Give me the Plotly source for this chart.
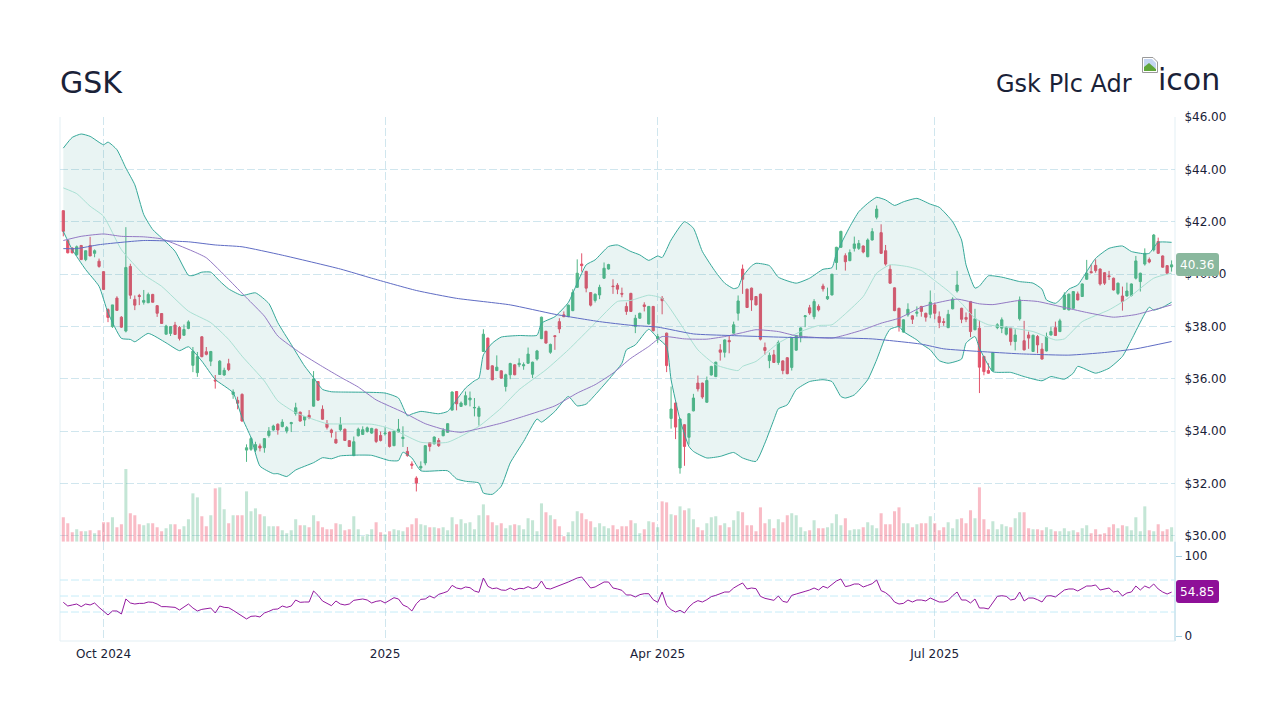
import pandas as pd
import plotly.graph_objects as go

TICKER = "GSK"
COMPANY = "Gsk Plc Adr"
HOLIDAYS = ["2024-11-28", "2024-12-25", "2025-01-01", "2025-01-09", "2025-01-20", "2025-02-17",
            "2025-04-18", "2025-05-26", "2025-06-19", "2025-07-04", "2025-09-01"]
dates = [d.strftime("%Y-%m-%d") for d in pd.bdate_range("2024-09-18", "2025-09-16") if d.strftime("%Y-%m-%d") not in HOLIDAYS]

tick_dates = ["2024-10-01", "2024-12-31", "2025-04-01", "2025-07-01"]
tick_labels = ["Oct 2024", "2025", "Apr 2025", "Jul 2025"]

opens = [42.43,41.29,41.0,40.75,41.1,40.56,41.1,40.8,40.5,40.1,38.65,38.0,39.09,38.36,37.83,40.3,39.04,39.19,38.93,38.91,
39.23,38.8,38.5,37.71,37.74,38.06,37.97,37.67,37.93,36.52,36.24,37.61,37.04,36.68,35.96,36.17,36.15,36.58,35.41,35.18,
35.41,33.28,33.31,33.28,33.44,33.37,33.84,34.05,34.27,34.18,34.01,34.29,34.68,34.73,34.43,34.61,34.96,35.9,34.84,34.3,
34.05,33.69,34.06,34.08,33.64,33.07,33.83,33.88,33.99,33.93,34.08,33.84,33.9,33.97,33.45,33.97,33.72,33.23,32.75,32.21,
32.6,32.79,33.57,33.52,33.65,33.83,33.96,34.81,35.52,34.95,35.01,35.2,34.89,34.57,37.05,37.56,36.5,36.32,36.31,35.71,
36.16,36.54,36.54,36.5,36.6,36.18,36.76,37.54,37.82,37.02,37.65,38.19,38.45,38.38,38.61,39.5,40.39,40.11,39.3,39.0,
39.21,39.85,40.2,39.55,39.58,39.27,38.77,39.27,38.0,38.32,38.83,38.1,38.77,37.53,39.08,37.75,34.49,35.08,32.6,34.25,
33.77,34.78,35.84,35.84,35.11,36.15,36.09,37.11,37.02,37.47,37.75,38.51,40.2,39.43,39.47,39.15,39.24,37.2,36.7,36.92,
36.63,36.69,36.81,36.44,37.1,37.6,38.38,38.72,38.38,38.77,39.55,39.06,39.21,40.45,41.03,40.71,40.52,40.99,40.99,41.08,
40.67,41.31,42.18,41.59,40.9,40.19,39.48,38.7,37.79,38.45,38.41,38.51,38.77,38.51,38.47,38.83,38.38,38.19,37.96,38.68,
39.36,38.7,38.35,38.96,37.88,37.94,36.86,36.32,36.31,37.96,37.94,37.71,37.94,37.43,38.3,37.46,37.68,37.05,37.62,37.14,
37.07,37.68,37.96,37.81,38.66,38.64,38.7,39.25,39.15,39.81,40.1,40.34,40.2,40.06,39.94,39.85,39.27,39.17,39.17,39.19,
39.85,39.72,40.39,40.56,40.93,41.25,40.7,40.33,40.28]
highs = [42.43,41.33,41.03,41.1,41.12,40.9,41.43,40.95,40.6,40.12,38.7,38.83,39.16,38.4,41.8,40.4,39.19,39.25,39.4,39.3,
39.25,38.82,38.52,38.07,38.0,38.18,38.02,38.08,38.24,37.22,37.03,37.63,37.22,37.07,36.15,36.72,36.43,36.77,35.6,35.32,
35.45,33.5,33.78,33.6,33.53,33.74,34.16,34.25,34.3,34.46,34.2,34.36,35.09,34.75,34.58,34.81,36.3,35.92,34.99,34.43,
34.1,33.98,34.54,34.1,33.66,33.8,34.14,34.19,34.18,34.13,34.1,33.99,34.16,33.99,34.02,34.47,34.19,33.4,32.85,32.28,
32.85,33.47,33.59,33.8,33.74,34.12,34.31,35.52,35.54,35.14,35.52,35.52,35.27,34.97,37.9,37.58,36.52,36.9,36.33,36.2,
36.62,36.56,36.79,36.63,37.2,36.66,37.11,38.38,37.84,37.35,37.67,38.32,38.58,38.84,39.43,40.57,40.8,40.13,39.32,39.26,
39.6,40.45,40.4,39.81,39.66,39.49,38.92,39.29,38.45,38.53,38.93,38.79,38.79,37.72,39.17,37.77,35.71,35.1,34.49,34.27,
34.69,35.43,36.13,35.86,36.09,36.5,36.66,37.33,37.51,37.68,38.19,39.19,40.37,39.45,39.49,39.17,39.26,37.39,37.01,37.11,
37.47,36.71,36.83,37.58,37.68,37.97,38.44,38.83,39.05,38.85,39.64,39.49,40.02,41.05,41.66,40.8,40.95,41.44,41.31,41.1,
41.37,41.76,42.63,41.91,41.12,40.36,39.5,38.72,38.28,38.89,38.43,38.77,38.79,38.53,39.38,38.92,38.58,38.32,38.64,39.12,
40.13,38.72,38.54,38.98,38.68,38.23,36.88,36.6,37.03,38.13,38.35,38.0,37.96,37.9,39.15,38.22,37.81,37.69,37.68,37.37,
37.77,37.98,38.19,38.3,39.31,39.26,39.36,39.34,39.65,40.55,40.37,40.57,40.22,40.08,40.13,39.87,39.68,39.53,39.68,39.65,
40.7,40.06,40.99,40.64,41.54,41.4,40.72,40.35,40.53]
lows = [41.45,40.8,40.8,40.7,40.56,40.5,40.7,40.65,40.25,39.4,38.17,37.95,38.62,37.95,37.78,39.06,38.63,38.82,38.84,38.9,
38.93,38.37,38.1,37.7,37.64,37.68,37.47,37.65,37.9,36.26,36.08,36.83,36.9,36.49,35.63,36.15,36.12,36.3,35.24,34.84,
34.37,32.83,33.25,33.2,33.23,33.18,33.76,34.02,33.87,34.15,33.92,33.97,34.6,34.37,34.2,34.46,34.94,35.17,34.44,34.07,
33.76,33.53,34.0,33.63,33.4,33.05,33.8,33.86,33.95,33.9,33.55,33.61,33.83,33.38,33.43,33.95,33.4,33.03,32.56,31.7,
32.51,32.7,33.23,33.5,33.4,33.81,33.94,34.79,34.8,34.93,34.99,34.95,34.57,34.22,37.03,36.35,35.95,36.3,36.01,35.52,
35.99,36.14,36.45,36.35,36.58,36.03,36.7,37.52,37.35,36.96,37.11,37.75,38.36,38.36,38.59,39.48,40.1,39.31,38.77,38.92,
39.05,39.83,40.18,39.25,39.24,39.12,38.45,38.56,37.75,38.3,38.58,38.08,37.82,37.37,38.47,36.26,34.1,33.7,32.38,32.68,
33.49,34.76,35.52,35.24,35.09,36.13,36.07,36.7,36.82,36.98,37.73,38.23,39.25,38.71,38.6,38.81,37.47,36.92,36.41,36.61,
36.54,36.18,36.18,36.32,37.08,37.4,37.98,38.45,38.28,38.58,39.34,39.02,39.19,40.17,41.01,40.14,40.5,40.87,40.93,40.8,
40.65,41.29,42.1,40.78,40.33,39.64,38.59,37.81,37.77,38.38,38.1,38.38,38.38,38.19,38.32,38.28,37.94,38.03,37.94,38.66,
39.3,38.13,38.17,37.6,37.86,35.46,36.14,36.2,36.29,37.9,37.75,37.66,37.28,37.09,38.23,37.09,37.15,37.03,36.98,36.74,
37.05,37.66,37.64,37.79,38.64,38.62,38.68,39.0,39.13,39.79,40.04,40.06,39.57,39.59,39.78,39.38,39.21,38.61,39.15,39.15,
39.8,39.34,40.33,40.42,40.87,40.78,40.25,40.02,40.1]
closes = [41.64,40.82,40.82,41.05,40.56,40.9,40.7,40.9,40.3,39.42,38.35,38.83,38.62,37.98,40.26,39.2,38.82,39.15,39.0,39.23,
38.93,38.51,38.12,38.02,38.0,37.7,37.55,37.89,38.18,37.06,36.85,36.85,36.94,37.05,35.92,36.68,36.33,36.36,35.5,35.07,
34.39,33.37,33.72,33.49,33.36,33.72,34.01,34.2,34.05,34.35,34.14,34.33,34.9,34.39,34.56,34.52,36.0,35.19,34.46,34.15,
33.95,33.55,34.25,33.65,33.42,33.6,34.08,34.06,34.13,34.11,33.61,33.65,33.93,33.42,34.0,34.08,33.77,33.07,32.7,32.02,
32.66,33.45,33.42,33.78,33.45,34.03,34.29,35.5,35.05,35.08,35.36,35.27,34.91,34.89,37.71,36.37,35.97,36.45,36.03,36.16,
36.59,36.16,36.6,36.54,36.95,36.64,37.07,38.36,37.37,37.32,37.62,37.91,38.38,38.82,39.3,40.04,40.33,39.47,38.82,39.24,
39.5,40.23,40.37,39.53,39.43,39.24,38.58,38.58,38.32,38.51,38.77,38.77,37.84,37.62,38.99,36.51,34.85,34.16,34.47,33.42,
34.67,35.27,35.62,35.31,35.94,36.48,36.64,37.02,37.49,37.42,38.07,38.98,39.81,38.73,39.02,38.83,37.52,37.09,36.9,36.63,
37.39,36.32,36.2,37.56,37.66,37.95,38.41,38.52,38.96,38.64,39.44,39.15,40.0,41.03,41.64,40.48,40.83,41.16,41.18,40.85,
41.31,41.63,42.49,40.8,40.39,39.66,38.61,38.0,38.26,38.66,38.28,38.55,38.58,38.36,38.93,38.51,38.16,38.16,38.47,39.05,
39.59,38.28,38.28,37.81,38.3,36.45,36.28,36.22,37.01,38.07,38.26,37.98,37.43,37.68,39.02,37.11,37.56,37.67,37.3,36.76,
37.62,37.81,37.66,38.22,39.21,39.24,39.34,39.02,39.63,40.04,40.06,40.14,39.63,39.66,39.91,39.4,39.66,38.96,39.36,39.63,
40.51,40.04,40.8,40.47,41.5,40.8,40.27,40.04,40.36]
volumes = [3.65,2.75,1.40,1.85,1.55,1.55,1.70,1.25,1.70,2.90,2.90,3.65,2.15,2.60,10.90,4.25,3.95,2.60,2.45,2.75,
2.75,2.15,1.55,2.00,2.60,2.60,1.85,2.30,3.35,7.25,6.65,3.80,2.30,3.95,8.00,8.15,4.85,2.75,3.95,3.95,
3.95,7.55,4.55,5.00,4.10,3.80,2.30,2.30,2.30,1.70,1.25,1.70,3.35,2.45,2.45,2.15,3.95,3.05,2.15,1.85,
1.85,2.75,2.60,1.70,1.85,3.80,1.85,0.80,1.10,1.85,2.90,1.40,1.10,1.55,1.85,1.70,1.55,2.15,2.60,3.50,
2.60,2.45,2.15,2.15,2.00,2.15,1.70,3.65,2.60,3.35,2.75,2.90,1.85,3.95,5.60,3.95,2.90,2.45,2.75,2.00,
2.45,2.60,2.45,1.85,3.50,3.20,1.55,5.75,4.40,3.95,3.35,2.30,0.80,1.40,3.05,4.55,4.25,3.35,3.05,2.15,
2.75,2.30,2.00,2.45,1.85,2.30,2.30,3.20,2.75,1.25,1.85,3.05,2.90,2.15,6.05,5.90,4.10,3.95,5.30,4.70,
5.00,3.35,2.15,1.70,2.75,3.65,3.80,2.45,2.75,2.15,3.20,4.55,4.40,2.45,2.45,1.55,5.15,2.75,3.35,2.00,
3.35,2.90,3.95,4.25,3.95,2.15,1.55,1.70,3.20,2.00,2.00,2.15,2.75,4.10,2.45,3.50,1.70,1.85,1.85,2.15,
2.90,2.45,2.00,4.25,2.60,2.60,4.55,5.15,2.75,2.75,2.15,2.60,2.75,2.75,3.80,2.75,1.70,2.15,2.90,2.00,
3.35,3.50,2.75,4.70,3.50,8.15,3.35,1.85,3.05,1.85,2.60,2.30,2.15,3.50,4.40,4.40,2.00,1.85,1.85,1.70,
2.15,1.85,1.55,1.55,2.00,1.55,1.70,1.40,2.00,2.45,1.25,1.85,1.10,1.25,2.15,2.60,2.00,2.45,2.30,1.70,
3.65,1.55,5.30,1.70,1.55,2.60,1.55,1.85,2.15]
rsi = [42.1,37.5,38.8,40,36.7,40,38.8,41.3,35.8,30.8,26.3,31.3,31.3,27.5,46.3,41.3,40,40.8,40.8,42.5,
42.1,40,36.7,36.7,36.7,35.8,32.5,36.7,40,35,31.3,33.3,33.8,35,28.8,37.5,35.8,35.4,32.1,28.8,
25.4,21.3,24.6,25,23.8,28.8,30.8,33.3,33.8,37.5,35.8,37.5,45,42.1,42.5,42.5,56.3,50.8,43.8,41.3,
37.9,43.8,40,38.8,40,44.6,45,46.3,45,41.3,43.3,44.2,41.3,45,47.9,46.3,38.8,36.3,31.3,40.4,
45.8,46.3,50,47.5,52.1,53.8,55.8,63.3,60,58.8,61.3,60.4,56.3,54.6,72.5,62.1,59.2,60,57.5,57.1,
60,57.5,59.6,59.2,61.7,59.2,60.8,68.8,59.6,58.8,60.8,63.3,65.4,67.5,70,72.5,73.8,66.3,60,61.3,
64.2,67.5,67.5,60,58.8,57.1,51.3,51.3,48.8,51.7,52.9,52.9,45.4,42.1,55,38.3,32.9,30,32.1,28.8,
36.3,41.3,44.2,42.5,45.4,49.2,50.8,52.9,55,55,60,63.3,66.3,58.8,60,59.2,49.6,47.1,46.3,44.6,
50,43.3,42.1,50.8,52.5,53.8,55.8,57.5,60,57.5,62.1,60,65,68.8,71.3,61.7,62.9,65,65,61.3,
63.3,65.4,70,56.7,54.2,49.6,42.5,40,40.8,45,42.5,45,45,43.8,47.5,44.6,42.5,42.5,44.6,50.4,
55,45,45,41.3,46.3,35,35,33.8,42.5,49.6,50.4,49.6,45,46.3,55,43.8,47.5,47.5,45.4,42.5,
50,50.4,48.8,52.9,57.5,58.8,58.8,56.3,59.2,62.5,62.5,63.8,57.5,58.8,60,55,56.3,50,53.8,55,
62.5,57.5,62.5,60,65,58.8,55,52.5,54.85]

upper_idx = [0,2,4,6,9,10,12,14,16,18,20,22,25,28,29,31,33,35,37,40,43,46,48,51,54,56,58,60,62,72,75,77,78,80,84,86,88,90,92,93,94,96,98,102,106,107,110,113,115,117,119,122,124,127,129,131,133,134,136,139,141,143,146,148,150,151,152,154,155,158,160,164,167,170,172,173,176,178,180,182,184,186,188,191,194,196,199,201,202,204,205,207,210,214,217,219,220,222,223,225,227,229,231,234,237,239,242,243,245,248]
upper_val = [44.82,45.23,45.36,45.27,44.95,45.05,44.76,44.06,43.42,42.28,41.71,41.39,40.88,39.96,39.95,40.08,40.08,39.74,39.44,39.19,39.29,38.88,38.15,37.32,36.49,36.05,35.6,35.51,35.5,35.46,35.27,34.59,34.66,34.76,34.67,34.76,35.2,35.65,35.93,36.03,36.92,37.37,37.6,37.66,37.67,38.13,38.38,38.92,39.66,40.36,40.55,41.06,41.12,40.87,40.74,40.53,40.7,40.64,41.31,42.01,41.76,40.87,40.08,39.66,39.45,39.5,39.91,40.32,40.42,40.33,39.89,39.66,39.85,40.19,40.25,40.8,41.82,42.39,42.71,42.94,42.84,42.63,42.77,42.9,42.68,42.56,42.01,41.31,40.36,39.47,39.55,39.94,39.89,39.72,39.66,39.43,39.02,38.89,39.02,39.43,39.59,40.1,40.61,40.99,41.08,40.87,40.78,40.8,41.22,41.22]
lower_idx = [0,2,5,8,10,13,15,16,19,23,26,28,31,34,38,40,42,44,47,48,50,52,56,58,60,62,66,69,73,75,76,78,80,86,88,90,93,94,96,98,100,103,106,107,110,113,115,117,119,122,125,126,128,131,133,135,136,138,140,141,144,147,150,152,155,157,159,160,162,164,167,170,172,174,175,177,180,182,184,185,187,188,191,192,194,196,198,201,202,204,205,208,212,215,219,221,224,226,227,231,234,237,239,243,244,246,248]
lower_val = [41.64,40.94,40.18,39.54,38.53,37.55,37.51,37.42,37.74,37.38,37.08,37.23,36.68,35.98,35.47,34.52,33.76,32.67,32.38,32.38,32.27,32.52,32.8,32.99,32.95,33.06,33.09,33.08,32.88,32.88,33.2,32.98,32.49,32.49,32.18,32.09,32.02,31.64,31.59,31.9,32.79,33.61,34.47,34.35,34.76,35.33,34.97,35.04,35.39,35.97,36.6,37.11,37.3,37.9,37.56,37.24,35.97,34.44,33.42,33.23,32.98,33.04,33.19,32.98,32.85,33.55,34.44,34.86,35.01,35.59,35.9,35.97,35.9,35.33,35.27,35.39,35.97,36.73,37.62,37.9,38.0,37.81,37.49,37.34,37.11,36.7,36.6,36.76,37.37,37.62,37.18,36.28,36.25,36.09,35.93,36.09,35.99,36.22,36.48,36.22,36.41,36.86,37.49,38.74,38.63,38.74,38.93]
mid_idx = [0,3,6,9,13,18,22,28,33,37,40,45,48,52,59,62,69,72,75,80,86,93,98,102,108,113,119,124,127,131,134,138,142,146,151,152,155,160,165,169,172,175,179,182,185,189,192,195,198,201,204,207,211,217,222,224,228,234,238,244,248]
mid_val = [43.3,43.08,42.6,42.22,40.94,39.99,39.54,38.59,38.15,37.51,36.87,35.92,35.16,34.71,34.29,34.28,34.27,34.16,33.97,33.58,33.58,34.19,34.89,35.59,36.35,37.11,38.13,38.96,39.0,39.2,39.08,38.13,37.11,36.54,36.32,36.48,36.67,37.37,37.81,38.04,38.07,38.49,39.15,40.04,40.36,40.29,40.14,39.76,39.36,38.89,38.32,38.07,37.98,37.81,37.49,37.53,38.19,38.64,39.05,39.85,40.04]
sma50_idx = [0,4,9,13,18,22,29,32,37,41,45,48,53,58,62,66,70,76,81,86,89,93,98,103,110,115,119,123,127,131,134,139,144,148,152,155,160,164,172,175,179,183,187,192,195,200,205,208,214,218,223,229,235,240,244,248]
sma50_val = [41.29,41.45,41.54,41.45,41.43,41.35,40.88,40.63,39.8,39.1,38.4,37.64,37.0,36.47,36.07,35.69,35.2,34.73,34.29,34.03,33.96,34.1,34.31,34.57,34.97,35.46,35.78,36.22,36.79,37.24,37.62,37.53,37.52,37.62,37.77,37.88,37.81,37.65,37.56,37.68,37.88,38.13,38.32,38.74,38.89,39.05,38.87,38.84,39.0,38.96,38.77,38.54,38.36,38.46,38.64,38.83]
sma200_idx = [0,3,8,18,28,34,40,49,62,69,79,88,100,110,120,127,133,141,149,164,172,181,192,197,205,214,225,233,240,248]
sma200_val = [40.98,40.98,41.13,41.29,41.24,41.12,41.05,40.73,40.2,39.85,39.38,39.08,38.83,38.47,38.19,38.05,37.98,37.72,37.66,37.58,37.57,37.53,37.33,37.15,37.05,36.96,36.91,37.01,37.15,37.43]

# Page geometry, in screen pixels
W, H = 1280, 720
L, R, T, B = 60, 1175, 117, 641
SPLIT = 541.7
def px(x): return (x - L) / (R - L)
def py(y): return (B - y) / (B - T)

INK = "#1a2238"
GRID = "rgba(176,214,226,0.6)"
DASH = "8px,3px"
UP, DOWN = "#52b788", "#e2536b"
BAND, MID = "#35a899", "#a9e0d3"
SMOOTH = dict(shape="spline", smoothing=0.5, width=1)

fig = go.Figure()
vol_colors = ["rgba(82,183,136,0.34)" if c >= o else "rgba(240,80,105,0.38)" for o, c in zip(opens, closes)]
fig.add_trace(go.Bar(x=dates, y=volumes, marker=dict(color=vol_colors, line_width=0), width=0.68, yaxis="y3", xaxis="x"))

def pick(ix): return [dates[i] for i in ix]
fig.add_trace(go.Scatter(x=pick(lower_idx), y=lower_val, mode="lines", line=dict(color=BAND, **SMOOTH)))
fig.add_trace(go.Scatter(x=pick(upper_idx), y=upper_val, mode="lines", line=dict(color=BAND, **SMOOTH),
                         fill="tonexty", fillcolor="rgba(48,155,145,0.105)"))
fig.add_trace(go.Scatter(x=pick(mid_idx), y=mid_val, mode="lines", line=dict(color=MID, **SMOOTH)))
fig.add_trace(go.Scatter(x=pick(sma50_idx), y=sma50_val, mode="lines", line=dict(color="#9379c4", **SMOOTH)))
fig.add_trace(go.Scatter(x=pick(sma200_idx), y=sma200_val, mode="lines", line=dict(color="#5f6cc4", **SMOOTH)))
fig.add_trace(go.Candlestick(x=dates, open=opens, high=highs, low=lows, close=closes, whiskerwidth=0,
    increasing=dict(line=dict(color=UP, width=1), fillcolor=UP),
    decreasing=dict(line=dict(color=DOWN, width=1), fillcolor=DOWN)))
fig.add_trace(go.Scatter(x=dates, y=rsi, mode="lines", line=dict(color="#941a9f", width=1), yaxis="y2"))

AXIS = "#e3eff4"
shapes = [
    dict(type="line", xref="paper", yref="paper", x0=0, x1=0, y0=0, y1=1, line=dict(color=AXIS, width=1), layer="below"),
    dict(type="line", xref="paper", yref="paper", x0=1, x1=1, y0=py(SPLIT), y1=1, line=dict(color=AXIS, width=1), layer="below"),
    dict(type="line", xref="paper", yref="paper", x0=1, x1=1, y0=0, y1=py(SPLIT), line=dict(color="#a9d2e2", width=1), layer="below"),
    dict(type="line", xref="paper", yref="paper", x0=0, x1=1, y0=0, y1=0, line=dict(color=AXIS, width=1), layer="below"),
]
for lvl in (30, 50, 70):
    shapes.append(dict(type="line", xref="paper", yref="y2", x0=0, x1=1, y0=lvl, y1=lvl,
                       line=dict(color="#c6ecf8", width=1, dash=DASH), layer="below"))

def rounded(x0, y0, x1, y1, r, fill):
    p = (f"M {px(x0+r)} {py(y0)} L {px(x1-r)} {py(y0)} Q {px(x1)} {py(y0)} {px(x1)} {py(y0+r)} "
         f"L {px(x1)} {py(y1-r)} Q {px(x1)} {py(y1)} {px(x1-r)} {py(y1)} L {px(x0+r)} {py(y1)} "
         f"Q {px(x0)} {py(y1)} {px(x0)} {py(y1-r)} L {px(x0)} {py(y0+r)} Q {px(x0)} {py(y0)} {px(x0+r)} {py(y0)} Z")
    return dict(type="path", xref="paper", yref="paper", path=p, fillcolor=fill, line=dict(width=0), layer="above")

shapes.append(rounded(1176, 253, 1219, 276, 3, "#8ab89e"))
shapes.append(rounded(1176, 580, 1219, 603, 3, "#8e1098"))

def poly(points, fill, line="rgba(0,0,0,0)"):
    p = "M " + " L ".join(f"{px(x)} {py(y)}" for x, y in points) + " Z"
    return dict(type="path", xref="paper", yref="paper", path=p, fillcolor=fill, line=dict(color=line, width=1), layer="above")

# broken-image glyph beside the company name
shapes.append(poly([(1142.5, 57.5), (1153, 57.5), (1157.5, 62), (1157.5, 72.5), (1142.5, 72.5)], "#ffffff", "#9a9a9a"))
shapes.append(poly([(1144, 59), (1152, 59), (1156, 63), (1156, 68), (1144, 68)], "#c5d6f2"))
shapes.append(poly([(1144, 71), (1144, 67), (1149, 63), (1156, 69), (1156, 71)], "#5fa63a"))

def note(x, y, text, size, color=INK, anchor="left"):
    return dict(xref="paper", yref="paper", x=px(x), y=py(y), text=text, showarrow=False, xanchor=anchor, yanchor="middle",
                font=dict(size=size, color=color, family="DejaVu Sans"), borderpad=0, borderwidth=0)

annotations = [
    note(60, 83, TICKER, 30),
    note(1132, 84, COMPANY, 24, anchor="right"),
    note(1220, 80, "icon", 30, anchor="right"),
    note(1196.5, 265, f"{closes[-1]:.2f}", 12, "#ffffff", "center"),
    note(1196.5, 592, f"{rsi[-1]:.2f}", 12, "#ffffff", "center"),
]

fig.update_layout(
    width=W, height=H, autosize=False, showlegend=False, paper_bgcolor="white", plot_bgcolor="white",
    margin=dict(l=L, r=W - R, t=T, b=H - B),
    font=dict(family="DejaVu Sans", size=12, color=INK),
    shapes=shapes, annotations=annotations, bargap=0.3,
    xaxis=dict(type="category", categoryorder="array", categoryarray=dates, range=[-0.74, 248.76], anchor="y2",
               rangeslider=dict(visible=False), tickmode="array", tickvals=tick_dates, ticktext=tick_labels,
               showgrid=True, gridcolor=GRID, griddash=DASH, gridwidth=1, ticks="outside", ticklen=2,
               tickcolor="rgba(0,0,0,0)", showline=False, zeroline=False),
    yaxis=dict(domain=[py(SPLIT), 1], range=[29.78, 46.01], side="right", anchor="x", tick0=30, dtick=2, tickprefix="$", tickformat=".2f",
               showgrid=True, gridcolor=GRID, griddash=DASH, gridwidth=1, zeroline=False, showline=False,
               ticks="outside", ticklen=6, tickcolor="rgba(0,0,0,0)"),
    yaxis2=dict(domain=[0, py(SPLIT)], range=[-6.25, 117.9], side="right", anchor="x", tickmode="array", tickvals=[0, 100],
                showgrid=False, zeroline=False, showline=False, ticks="outside", ticklen=6, tickcolor="#a9d2e2"),
    yaxis3=dict(domain=[py(SPLIT), 1], overlaying="y", range=[0, 63.7], visible=False),
)

fig.write_html("out.html", config={"displayModeBar": False},
               post_script="document.body.style.margin='0';document.body.style.overflow='hidden';")
